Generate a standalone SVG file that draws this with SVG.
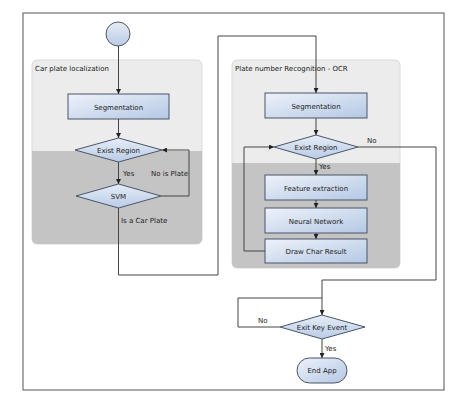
<svg xmlns="http://www.w3.org/2000/svg" width="474" height="404" viewBox="0 0 474 404">
<defs>
<linearGradient id="gb" x1="0" y1="0" x2="1" y2="1">
<stop offset="0" stop-color="#eef2fa"/>
<stop offset="1" stop-color="#b4c8e4"/>
</linearGradient>
<linearGradient id="gd" x1="0" y1="0" x2="0" y2="1">
<stop offset="0" stop-color="#e6edf8"/>
<stop offset="1" stop-color="#b9cbe5"/>
</linearGradient>
<marker id="ar" viewBox="0 0 10 10" refX="10" refY="5" markerWidth="5" markerHeight="5" orient="auto" markerUnits="userSpaceOnUse">
<path d="M0,0 L10,5 L0,10 z" fill="#222"/>
</marker>
<style>
.t{font-family:"DejaVu Sans",sans-serif;font-size:7px;fill:#222}
.c{text-anchor:middle}
.box{fill:url(#gb);stroke:#4a5568;stroke-width:1}
.dia{fill:url(#gd);stroke:#4a5568;stroke-width:1}
.ln{fill:none;stroke:#444;stroke-width:1}
.la{fill:none;stroke:#444;stroke-width:1;marker-end:url(#ar)}
</style>
</defs>
<rect x="0" y="0" width="474" height="404" fill="#fff"/>
<rect x="23" y="13" width="421" height="377" fill="#fff" stroke="#555" stroke-width="1"/>

<g id="lane1">
<rect x="32" y="60" width="170" height="184" rx="5" fill="#ececec" stroke="#dadada"/>
<path d="M32,151 H202 V239 A5,5 0 0 1 197,244 H37 A5,5 0 0 1 32,239 Z" fill="#c4c4c4"/>
<text class="t" x="35" y="71">Car plate localization</text>
</g>
<g id="lane2">
<rect x="232" y="60" width="168" height="208" rx="5" fill="#ececec" stroke="#dadada"/>
<path d="M232,163 H400 V263 A5,5 0 0 1 395,268 H237 A5,5 0 0 1 232,263 Z" fill="#c4c4c4"/>
<text class="t" x="235" y="71">Plate number Recognition - OCR</text>
</g>

<g id="start">
<circle cx="118" cy="34" r="12" fill="url(#gd)" stroke="#555"/>
</g>
<g id="seg1">
<rect class="box" x="68" y="94" width="101" height="25"/>
<text class="t c" x="118.5" y="109.5">Segmentation</text>
</g>
<g id="exist1">
<polygon class="dia" points="118.5,138 162,150 118.5,162 75,150"/>
<text class="t c" x="118.5" y="152.5">Exist Region</text>
</g>
<g id="svm">
<polygon class="dia" points="118.5,184 161,196 118.5,208 76,196"/>
<text class="t c" x="118.5" y="198.5">SVM</text>
</g>
<g id="seg2">
<rect class="box" x="265" y="93" width="102" height="25"/>
<text class="t c" x="316" y="108.5">Segmentation</text>
</g>
<g id="exist2">
<polygon class="dia" points="316,135 358,147 316,159 274,147"/>
<text class="t c" x="316" y="149.5">Exist Region</text>
</g>
<g id="feat">
<rect class="box" x="265" y="175" width="102" height="25"/>
<text class="t c" x="316" y="190.5">Feature extraction</text>
</g>
<g id="nn">
<rect class="box" x="265" y="208" width="102" height="25"/>
<text class="t c" x="316" y="223.5">Neural Network</text>
</g>
<g id="draw">
<rect class="box" x="265" y="239" width="102" height="24"/>
<text class="t c" x="316" y="253.5">Draw Char Result</text>
</g>
<g id="exitkey">
<polygon class="dia" points="322,315 365,327 322,339 280,327"/>
<text class="t c" x="322" y="329.5">Exit Key Event</text>
</g>
<g id="endapp">
<rect class="box" x="297" y="358" width="50" height="25" rx="12.5"/>
<text class="t c" x="322" y="373">End App</text>
</g>

<g id="connectors">
<path class="la" d="M118.5,46 V94"/>
<path class="la" d="M118.5,119 V138"/>
<path class="la" d="M118.5,162 V184"/>
<path class="la" d="M161,196 H189 V150 H162"/>
<path class="la" d="M118.5,208 V275 H218 V36 H316 V93"/>
<path class="la" d="M316,118 V135"/>
<path class="la" d="M316,159 V175"/>
<path class="la" d="M316,200 V208"/>
<path class="la" d="M316,233 V239"/>
<path class="la" d="M265,251 H244 V147 H274"/>
<path class="la" d="M358,147 H436 V280 H322 V315"/>
<path class="ln" d="M280,327 H238 V298 H322"/>
<path class="la" d="M322,339 V358"/>
<text class="t" x="123" y="176">Yes</text>
<text class="t" x="151" y="176">No is Plate</text>
<text class="t" x="121" y="223">Is a Car Plate</text>
<text class="t" x="319" y="169">Yes</text>
<text class="t" x="367" y="143">No</text>
<text class="t" x="258" y="323">No</text>
<text class="t" x="325" y="351">Yes</text>
</g>
</svg>
